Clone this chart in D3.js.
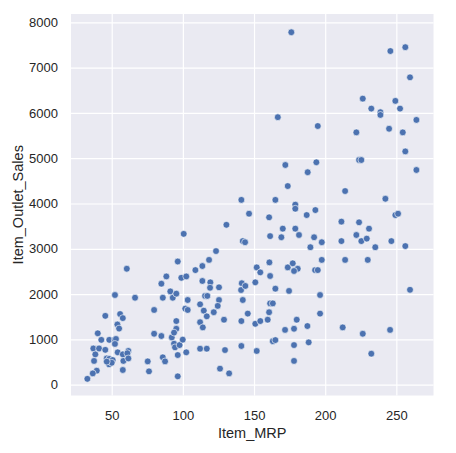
<!DOCTYPE html>
<html>
<head>
<meta charset="utf-8">
<script src="https://cdn.jsdelivr.net/npm/d3@7"></script>
<style>
  body { margin: 0; background: #fff; }
  text { font-family: "Liberation Sans", Arial, sans-serif; fill: #262626; }
</style>
</head>
<body>
<div id="chart"></div>
<script>
// values (Item_MRP vs Item_Outlet_Sales)
const mrpValues = [
    45.5, 55.9, 57.8, 54.0, 55.2, 40.2, 42.7, 48.3, 52.1, 53.0, 52.3, 37.1, 41.1, 45.5, 54.2, 38.5,
    57.8, 61.7, 61.0, 46.5, 48.3, 50.7, 58.2, 61.7, 37.6, 48.1, 50.0, 46.5, 57.8, 39.5, 36.7, 32.9,
    52.3, 60.6, 66.4, 75.3, 76.2, 79.8, 79.8, 84.9, 85.9, 84.9, 85.9, 87.5, 88.4, 91.2, 92.9, 92.2,
    93.8, 94.5, 95.4, 95.4, 93.8, 96.4, 95.4, 96.4, 96.4, 97.7, 98.9, 99.9, 100.6, 101.7, 103.4, 102.4,
    103.4, 102.4, 108.8,
    130.6, 211.4, 223.8, 230.8, 170.2, 179.0, 160.6, 161.3, 169.2, 181.6, 192.2, 197.6, 189.6, 142.1,
    143.7, 221.9, 225.4, 229.2, 211.4, 235.2, 246.5, 256.3, 123.3, 118.4, 113.7, 160.8, 151.9, 154.4,
    173.7, 177.2, 180.7, 178.1, 192.9, 194.8, 197.6, 214.0, 229.9, 113.7, 119.3, 119.1, 125.4, 141.4,
    140.9, 143.9, 150.9, 161.3, 165.0, 174.6, 115.6, 117.2, 125.4, 142.1, 196.4, 259.6, 112.1, 124.5,
    114.7, 121.7, 116.8, 161.3, 163.2, 160.6, 145.6, 128.9, 141.1, 150.9, 154.4, 159.6, 180.0, 196.4,
    112.1, 114.0, 171.8, 178.1, 187.5, 212.3, 226.4, 245.6, 163.2, 165.0, 178.1, 188.4, 112.1, 116.8,
    129.6, 141.1, 151.9, 232.4, 178.1, 126.1, 132.5,
    176.2, 245.8, 256.3, 259.6, 226.4, 249.3, 232.4, 238.8, 238.8, 252.6, 264.1, 166.7, 194.8, 221.9,
    244.9, 254.5, 256.3, 223.8, 225.4, 172.0, 193.8, 187.7, 264.1, 173.7, 214.0, 242.3, 141.1, 165.0,
    179.0, 179.0, 146.5, 187.0, 193.1, 249.3, 251.2
];
const salesValues = [
    1520, 1560, 1470, 1330, 1240, 1135, 990, 990, 990, 1010, 900, 800, 800, 770, 715, 670,
    670, 745, 695, 580, 570, 545, 525, 580, 525, 450, 485, 510, 325, 310, 250, 130,
    1980, 2560, 1920, 515, 295, 1650, 1125, 2230, 1920, 1075, 605, 515, 2390, 2060, 1920, 1045,
    905, 825, 1405, 1235, 1150, 2720, 2010, 655, 185, 875, 2360, 995, 3330, 1680, 1650, 2390,
    1870, 715, 2530,
    3530, 3600, 3585, 3445, 3445, 3445, 3695, 3280, 3255, 3305, 3255, 3145, 3035, 3170,
    3145, 3305, 3170, 3225, 3170, 3035, 3170, 3060, 2950, 2755, 2620, 2700, 2590, 2480,
    2590, 2680, 2560, 2510, 2530, 2530, 2755, 2755, 2755, 2290, 2260, 2140, 2150, 2240,
    2090, 2180, 2260, 2400, 2120, 2070, 1960, 1960, 1870, 1870, 1980, 2095, 1775, 1740,
    1635, 1600, 1510, 1795, 1795, 1600, 1570, 1435, 1405, 1345, 1405, 1435, 1435, 1570,
    1380, 1265, 1210, 1235, 1295, 1265, 1125, 1210, 960, 985, 875, 935, 795, 795,
    765, 855, 745, 685, 525, 355, 250,
    7780, 7365, 7450, 6785, 6315, 6265, 6095, 6015, 5955, 6095, 5845, 5905, 5710, 5570,
    5650, 5570, 5150, 4960, 4960, 4850, 4910, 4690, 4740, 4385, 4275, 4105, 4080, 4080,
    3975, 3885, 3775, 3745, 3855, 3745, 3775
];
const xTicks = [50, 100, 150, 200, 250];
const yTicks = [0, 1000, 2000, 3000, 4000, 5000, 6000, 7000, 8000];
const xLabel = "Item_MRP";
const yLabel = "Item_Outlet_Sales";

const points = mrpValues.map((d, i) => ({ mrp: d, sales: salesValues[i] }));

const width = 456, height = 453;
const margin = { top: 14, right: 22.5, bottom: 57.5, left: 71 };
const innerW = width - margin.left - margin.right;
const innerH = height - margin.top - margin.bottom;

const svg = d3.select("#chart")
    .append("svg")
    .attr("width", width)
    .attr("height", height);

const g = svg.append("g")
    .attr("transform", `translate(${margin.left},${margin.top})`);

const x = d3.scaleLinear().domain([21.4, 276.1]).range([0, innerW]);
const y = d3.scaleLinear().domain([-238, 8183]).range([innerH, 0]);

// darkgrid background
g.append("rect")
    .attr("width", innerW)
    .attr("height", innerH)
    .attr("fill", "#eaeaf2");

// gridlines
g.append("g")
    .attr("class", "grid")
    .attr("transform", `translate(0,${innerH})`)
    .call(d3.axisBottom(x).tickValues(xTicks).tickSize(-innerH).tickFormat(""))
    .call(a => a.select(".domain").remove())
    .call(a => a.selectAll("line").attr("stroke", "#fff").attr("stroke-width", 1.2));

g.append("g")
    .attr("class", "grid")
    .call(d3.axisLeft(y).tickValues(yTicks).tickSize(-innerW).tickFormat(""))
    .call(a => a.select(".domain").remove())
    .call(a => a.selectAll("line").attr("stroke", "#fff").attr("stroke-width", 1.2));

// tick labels
g.append("g")
    .attr("transform", `translate(0,${innerH})`)
    .call(d3.axisBottom(x).tickValues(xTicks).tickSize(0).tickPadding(15).tickFormat(d3.format("d")))
    .call(a => a.select(".domain").remove())
    .call(a => a.selectAll("text")
        .style("font-size", "13px")
        .style("font-family", "'Liberation Sans', Arial, sans-serif")
        .attr("fill", "#262626"));

g.append("g")
    .call(d3.axisLeft(y).tickValues(yTicks).tickSize(0).tickPadding(13).tickFormat(d3.format("d")))
    .call(a => a.select(".domain").remove())
    .call(a => a.selectAll("text")
        .style("font-size", "13px")
        .style("font-family", "'Liberation Sans', Arial, sans-serif")
        .attr("fill", "#262626"));

// points
g.append("g")
    .selectAll("circle")
    .data(points)
    .enter().append("circle")
    .attr("cx", d => x(d.mrp))
    .attr("cy", d => y(d.sales))
    .attr("r", 3.4)
    .attr("fill", "#4c72b0")
    .attr("stroke", "#fff")
    .attr("stroke-width", 0.6);

// axis labels
svg.append("text")
    .attr("x", margin.left + innerW / 2)
    .attr("y", 438)
    .attr("text-anchor", "middle")
    .style("font-size", "14.5px")
    .text(xLabel);

svg.append("text")
    .attr("transform", `translate(22.5,${margin.top + innerH / 2}) rotate(-90)`)
    .attr("text-anchor", "middle")
    .style("font-size", "14.5px")
    .text(yLabel);
</script>
</body>
</html>
